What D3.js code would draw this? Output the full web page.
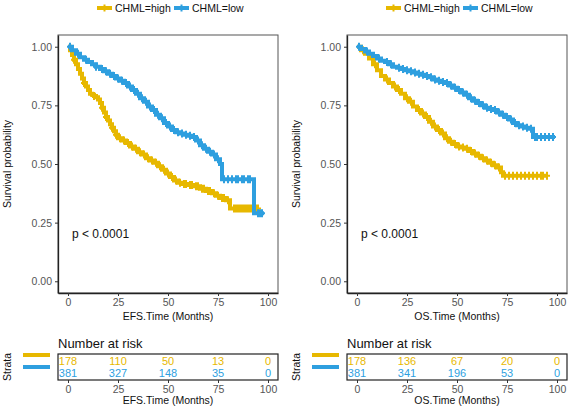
<!DOCTYPE html>
<html>
<head>
<meta charset="utf-8">
<script src="https://cdn.jsdelivr.net/npm/d3@7"></script>
<style>
  body { margin: 0; background: #fff; }
  text { font-family: "Liberation Sans", Arial, sans-serif; }
</style>
</head>
<body>
<div id="chart"></div>
<script>
// ---- data ----
var strata = ["CHML=high", "CHML=low"];
var colors = ["#E7B800", "#2E9FDF"];
var timeTicks = [0, 25, 50, 75, 100];
var survTicks = [0, 0.25, 0.5, 0.75, 1];

// EFS, high
var efsHighTime = [0,1,2,3,4,5,6,7,8,9,10,11,12,13,14,15,16,17,18,19,20,21,22,23,24,25,27,29,31,33,35,37,39,41,43,45,47,49,51,53,55,57,60,63,66,69,72,74,76,79,81];
var efsHighSurv = [1,0.985,0.965,0.945,0.925,0.905,0.885,0.865,0.845,0.83,0.815,0.80,0.795,0.79,0.785,0.775,0.76,0.74,0.72,0.70,0.685,0.67,0.655,0.64,0.625,0.61,0.60,0.59,0.575,0.565,0.55,0.54,0.525,0.515,0.505,0.49,0.475,0.46,0.445,0.43,0.42,0.415,0.41,0.405,0.395,0.385,0.375,0.365,0.355,0.345,0.31];
var efsHighEnd = 95;
var efsHighCens = [3,8,13,17,19,22,24,26,28,30,32,34,36,38,40,42,44,46,48,50,52,54,56,58,59,61,62,64,65,67,68,70,71,73,75,77,78,80,83,84,85,86,87,88,89,90,91,92,93,94,95];
// EFS, low
var efsLowTime = [0,2,4,6,8,10,12,14,16,18,20,22,24,26,28,30,32,34,36,38,40,42,44,46,48,50,52,54,56,58,60,62,64,66,68,70,72,74,76,77,93];
var efsLowSurv = [1,0.985,0.97,0.955,0.945,0.935,0.925,0.915,0.905,0.895,0.885,0.875,0.865,0.855,0.845,0.83,0.815,0.80,0.78,0.765,0.745,0.73,0.71,0.695,0.675,0.66,0.645,0.635,0.63,0.625,0.62,0.615,0.60,0.58,0.565,0.552,0.54,0.52,0.50,0.435,0.29];
var efsLowEnd = 98;
var efsLowCens = [1,5,9,14,17,19,21,23,25,27,29,31,33,35,37,39,41,43,45,47,49,51,53,55,57,59,61,63,65,67,69,71,73,75,78,80,82,84,85,87,88,90,91,95,96,97];

// OS, high
var osHighTime = [0,2,4,6,8,10,12,14,16,18,20,22,24,26,28,30,32,34,36,38,40,42,44,46,48,50,52,54,56,58,60,62,64,66,68,70,72,73];
var osHighSurv = [1,0.985,0.97,0.95,0.925,0.90,0.875,0.86,0.845,0.83,0.815,0.80,0.78,0.765,0.745,0.73,0.715,0.70,0.68,0.66,0.645,0.63,0.61,0.595,0.585,0.575,0.57,0.565,0.555,0.545,0.535,0.525,0.515,0.505,0.495,0.485,0.465,0.45];
var osHighEnd = 95;
var osHighCens = [3,9,15,19,21,25,27,31,33,35,37,39,41,43,45,47,49,51,53,55,57,59,61,63,65,67,69,71,74,76,78,80,82,84,86,88,90,92,93,95];
// OS, low
var osLowTime = [0,2,4,6,8,10,12,14,16,18,20,22,24,26,28,30,32,34,36,38,40,42,44,46,48,50,52,54,56,58,60,62,64,66,68,70,72,74,76,78,80,82,84,86,88];
var osLowSurv = [1,0.99,0.98,0.97,0.96,0.95,0.94,0.935,0.925,0.915,0.91,0.905,0.90,0.895,0.89,0.885,0.88,0.875,0.87,0.86,0.855,0.85,0.845,0.835,0.825,0.815,0.805,0.795,0.78,0.77,0.76,0.75,0.74,0.735,0.73,0.72,0.71,0.70,0.69,0.675,0.665,0.66,0.655,0.65,0.615];
var osLowEnd = 99;
var osLowCens = [1,5,11,15,17,21,23,25,27,29,31,33,35,37,39,41,43,45,47,49,51,53,55,57,59,61,63,65,67,69,71,73,75,77,79,81,83,85,87,89,90,92,94,96,98];

// risk table
var efsRiskHigh = [178, 110, 50, 13, 0];
var efsRiskLow = [381, 327, 148, 35, 0];
var osRiskHigh = [178, 136, 67, 20, 0];
var osRiskLow = [381, 341, 196, 53, 0];

var panels = [
  { left: 58, right: 278, xTitle: "EFS.Time (Months)",
    curves: [
      { time: efsHighTime, surv: efsHighSurv, end: efsHighEnd, cens: efsHighCens },
      { time: efsLowTime, surv: efsLowSurv, end: efsLowEnd, cens: efsLowCens }
    ],
    risk: [efsRiskHigh, efsRiskLow] },
  { left: 347, right: 567, xTitle: "OS.Time (Months)",
    curves: [
      { time: osHighTime, surv: osHighSurv, end: osHighEnd, cens: osHighCens },
      { time: osLowTime, surv: osLowSurv, end: osLowEnd, cens: osLowCens }
    ],
    risk: [osRiskHigh, osRiskLow] }
];

var svg = d3.select("#chart").append("svg")
  .attr("width", 573)
  .attr("height", 412);

var plotTop = 35, plotBottom = 293;
var y = d3.scaleLinear().domain([-0.05, 1.05]).range([plotBottom, plotTop]);

function survAt(c, t) {
  var i = d3.bisectRight(c.time, t) - 1;
  return c.surv[Math.max(i, 0)];
}

function styleTicks(a) {
  a.selectAll(".tick line").attr("stroke", "#333");
  a.selectAll(".tick text")
    .attr("font-size", 10.5).attr("fill", "#555")
    .attr("font-family", "Liberation Sans, Arial, sans-serif");
}

panels.forEach(function(p) {
  var x = d3.scaleLinear().domain([-5, 105]).range([p.left, p.right]);
  var g = svg.append("g");

  // legend on top
  var legX = p.left + 39;
  var leg = g.append("g").attr("transform", "translate(0,8)");
  var offsets = [0, 77];
  strata.forEach(function(s, i) {
    var lx = legX + offsets[i];
    leg.append("line")
      .attr("x1", lx).attr("x2", lx + 15)
      .attr("y1", 0).attr("y2", 0)
      .attr("stroke", colors[i]).attr("stroke-width", 4);
    leg.append("path")
      .attr("d", "M" + (lx + 7.5) + ",-3.5V3.5")
      .attr("stroke", colors[i]).attr("stroke-width", 2);
    leg.append("text")
      .attr("x", lx + 18).attr("y", 4)
      .attr("font-size", 10.5).attr("fill", "#111")
      .text(s);
  });

  // panel box
  g.append("rect")
    .attr("x", p.left).attr("y", plotTop)
    .attr("width", p.right - p.left).attr("height", plotBottom - plotTop)
    .attr("fill", "none").attr("stroke", "#555").attr("stroke-width", 1);

  // curves
  p.curves.forEach(function(c, i) {
    var pts = c.time.map(function(t, k) { return [t, c.surv[k]]; });
    pts.push([c.end, c.surv[c.surv.length - 1]]);
    var line = d3.line()
      .x(function(d) { return x(d[0]); })
      .y(function(d) { return y(d[1]); })
      .curve(d3.curveStepAfter);
    g.append("path")
      .attr("d", line(pts))
      .attr("fill", "none")
      .attr("stroke", colors[i])
      .attr("stroke-width", 4);
    g.selectAll(".cens" + i)
      .data(c.cens)
      .enter().append("path")
      .attr("class", "cens" + i)
      .attr("d", function(t) {
        var cx = x(t), cy = y(survAt(c, t));
        return "M" + (cx - 3) + "," + cy + "H" + (cx + 3) + "M" + cx + "," + (cy - 4) + "V" + (cy + 4);
      })
      .attr("stroke", colors[i])
      .attr("stroke-width", 2);
  });

  // axes
  var yAxis = g.append("g")
    .attr("transform", "translate(" + p.left + ",0)")
    .call(d3.axisLeft(y).tickValues(survTicks).tickFormat(d3.format(".2f")).tickSize(3).tickSizeOuter(0));
  var xAxis = g.append("g")
    .attr("transform", "translate(0," + plotBottom + ")")
    .call(d3.axisBottom(x).tickValues(timeTicks).tickSize(3).tickSizeOuter(0));
  [yAxis, xAxis].forEach(function(a) {
    a.select(".domain").attr("stroke", "#222").attr("stroke-width", 1.3);
    styleTicks(a);
  });

  g.append("text")
    .attr("transform", "translate(" + (p.left - 47) + "," + ((plotTop + plotBottom) / 2) + ") rotate(-90)")
    .attr("text-anchor", "middle")
    .attr("font-size", 10.5).attr("fill", "#111")
    .text("Survival probability");

  g.append("text")
    .attr("x", (p.left + p.right) / 2).attr("y", 320)
    .attr("text-anchor", "middle")
    .attr("font-size", 10.5).attr("fill", "#111")
    .text(p.xTitle);

  g.append("text")
    .attr("x", x(2)).attr("y", y(0.185))
    .attr("font-size", 12).attr("fill", "#111")
    .text("p < 0.0001");

  // risk table
  var rTop = 354, rBottom = 380;
  var ry = d3.scalePoint().domain(strata).range([361, 373]);
  g.append("text")
    .attr("x", p.left).attr("y", 348)
    .attr("font-size", 13).attr("fill", "#111")
    .text("Number at risk");
  g.append("rect")
    .attr("x", p.left).attr("y", rTop)
    .attr("width", p.right - p.left).attr("height", rBottom - rTop)
    .attr("fill", "none").attr("stroke", "#222").attr("stroke-width", 1.2);
  p.risk.forEach(function(row, i) {
    g.selectAll(".risk" + i)
      .data(row)
      .enter().append("text")
      .attr("class", "risk" + i)
      .attr("x", function(d, k) { return x(timeTicks[k]); })
      .attr("y", ry(strata[i]) + 4)
      .attr("text-anchor", "middle")
      .attr("font-size", 11)
      .attr("fill", colors[i])
      .text(function(d) { return d; });
    g.append("line")
      .attr("x1", p.left - 35).attr("x2", p.left - 8)
      .attr("y1", ry(strata[i]) - 6).attr("y2", ry(strata[i]) - 6)
      .attr("stroke", colors[i]).attr("stroke-width", 4);
  });
  var rAxis = g.append("g")
    .attr("transform", "translate(0," + rBottom + ")")
    .call(d3.axisBottom(x).tickValues(timeTicks).tickSize(3).tickSizeOuter(0));
  rAxis.select(".domain").remove();
  styleTicks(rAxis);

  g.append("text")
    .attr("x", (p.left + p.right) / 2).attr("y", 404)
    .attr("text-anchor", "middle")
    .attr("font-size", 10.5).attr("fill", "#111")
    .text(p.xTitle);

  g.append("text")
    .attr("transform", "translate(" + (p.left - 47) + "," + 367 + ") rotate(-90)")
    .attr("text-anchor", "middle")
    .attr("font-size", 10.5).attr("fill", "#111")
    .text("Strata");
});
</script>
</body>
</html>
